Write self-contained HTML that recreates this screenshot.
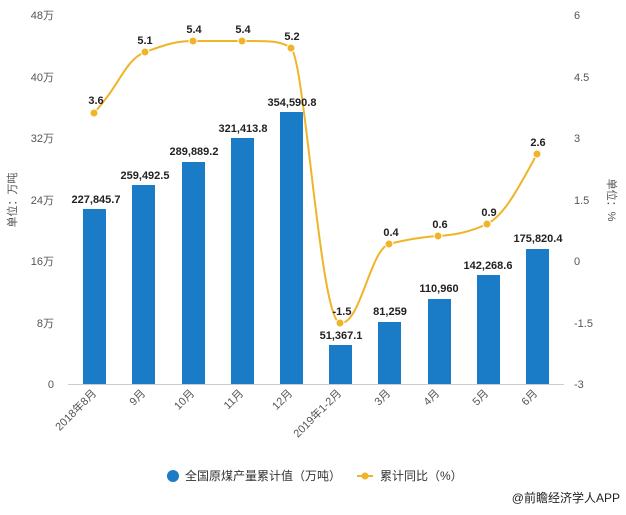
<!DOCTYPE html><html><head><meta charset="utf-8"><style>
body{margin:0;background:#fff;}
svg text{font-family:"Liberation Sans","Noto Sans CJK SC",sans-serif;}
</style></head><body>
<svg width="626" height="510" xmlns="http://www.w3.org/2000/svg">
<g font-size="11" fill="#555">
<text x="54" y="19" text-anchor="end">48万</text>
<text x="54" y="81" text-anchor="end">40万</text>
<text x="54" y="142" text-anchor="end">32万</text>
<text x="54" y="204" text-anchor="end">24万</text>
<text x="54" y="265" text-anchor="end">16万</text>
<text x="54" y="327" text-anchor="end">8万</text>
<text x="54" y="388" text-anchor="end">0</text>
<text x="574" y="19">6</text>
<text x="574" y="81">4.5</text>
<text x="574" y="142">3</text>
<text x="574" y="204">1.5</text>
<text x="574" y="265">0</text>
<text x="574" y="327">-1.5</text>
<text x="574" y="388">-3</text>
</g>
<text transform="translate(16,200) rotate(-90)" font-size="11" fill="#555" text-anchor="middle">单位：万吨</text>
<text transform="translate(608,200) rotate(90)" font-size="11" fill="#555" text-anchor="middle">单位：%</text>
<line x1="68" y1="384.5" x2="564" y2="384.5" stroke="#ccc"/>
<g fill="#1a7cc7">
<rect x="83" y="209" width="23" height="175"/>
<rect x="132" y="185" width="23" height="199"/>
<rect x="182" y="162" width="23" height="222"/>
<rect x="231" y="138" width="23" height="246"/>
<rect x="280" y="112" width="23" height="272"/>
<rect x="329" y="345" width="23" height="39"/>
<rect x="378" y="322" width="23" height="62"/>
<rect x="428" y="299" width="23" height="85"/>
<rect x="477" y="275" width="23" height="109"/>
<rect x="526" y="249" width="23" height="135"/>
</g>
<path d="M94,113 C120,85 125,60 145,52 C165,45 175,41 193,41 L242,41 C265,41 280,40 291,48 C305,60 320,320 340,323 C360,326 370,250 389,244 C405,240 420,237 438,236 C455,235 470,232 487,224 C505,215 520,185 537,154" fill="none" stroke="#f0b429" stroke-width="2"/>
<g fill="#f0b429" stroke="#fff" stroke-width="1">
<circle cx="94" cy="113" r="4"/><circle cx="145" cy="52" r="4"/><circle cx="193" cy="41" r="4"/><circle cx="242" cy="41" r="4"/><circle cx="291" cy="48" r="4"/><circle cx="340" cy="323" r="4"/><circle cx="389" cy="244" r="4"/><circle cx="438" cy="236" r="4"/><circle cx="487" cy="224" r="4"/><circle cx="537" cy="154" r="4"/>
</g>
<g font-size="11" font-weight="bold" fill="#222" text-anchor="middle">
<text x="96" y="104">3.6</text><text x="145" y="44">5.1</text><text x="194" y="33">5.4</text><text x="243" y="33">5.4</text><text x="292" y="40">5.2</text>
<text x="342" y="315">-1.5</text><text x="391" y="236">0.4</text><text x="440" y="228">0.6</text><text x="489" y="216">0.9</text><text x="538" y="146">2.6</text>
<text x="96" y="203">227,845.7</text><text x="145" y="179">259,492.5</text><text x="194" y="155">289,889.2</text><text x="243" y="132">321,413.8</text><text x="292" y="106">354,590.8</text>
<text x="341" y="339">51,367.1</text><text x="390" y="315">81,259</text><text x="439" y="292">110,960</text><text x="488" y="269">142,268.6</text><text x="538" y="242">175,820.4</text>
</g>
<g font-size="11" fill="#555" text-anchor="end">
<text transform="translate(97,394) rotate(-45)">2018年8月</text>
<text transform="translate(146,394) rotate(-45)">9月</text>
<text transform="translate(195,394) rotate(-45)">10月</text>
<text transform="translate(244,394) rotate(-45)">11月</text>
<text transform="translate(293,394) rotate(-45)">12月</text>
<text transform="translate(342,394) rotate(-45)">2019年1-2月</text>
<text transform="translate(391,394) rotate(-45)">3月</text>
<text transform="translate(440,394) rotate(-45)">4月</text>
<text transform="translate(489,394) rotate(-45)">5月</text>
<text transform="translate(538,394) rotate(-45)">6月</text>
</g>
<circle cx="173" cy="476" r="6" fill="#1a7cc7"/>
<text x="185" y="480" font-size="12" fill="#333">全国原煤产量累计值（万吨）</text>
<line x1="357" y1="476" x2="373" y2="476" stroke="#f0b429" stroke-width="2"/>
<circle cx="365" cy="476" r="3.5" fill="#f0b429"/>
<text x="380" y="480" font-size="12" fill="#333">累计同比（%）</text>
<text x="620" y="502" font-size="12" fill="#222" text-anchor="end">@前瞻经济学人APP</text>
</svg>
</body></html>
